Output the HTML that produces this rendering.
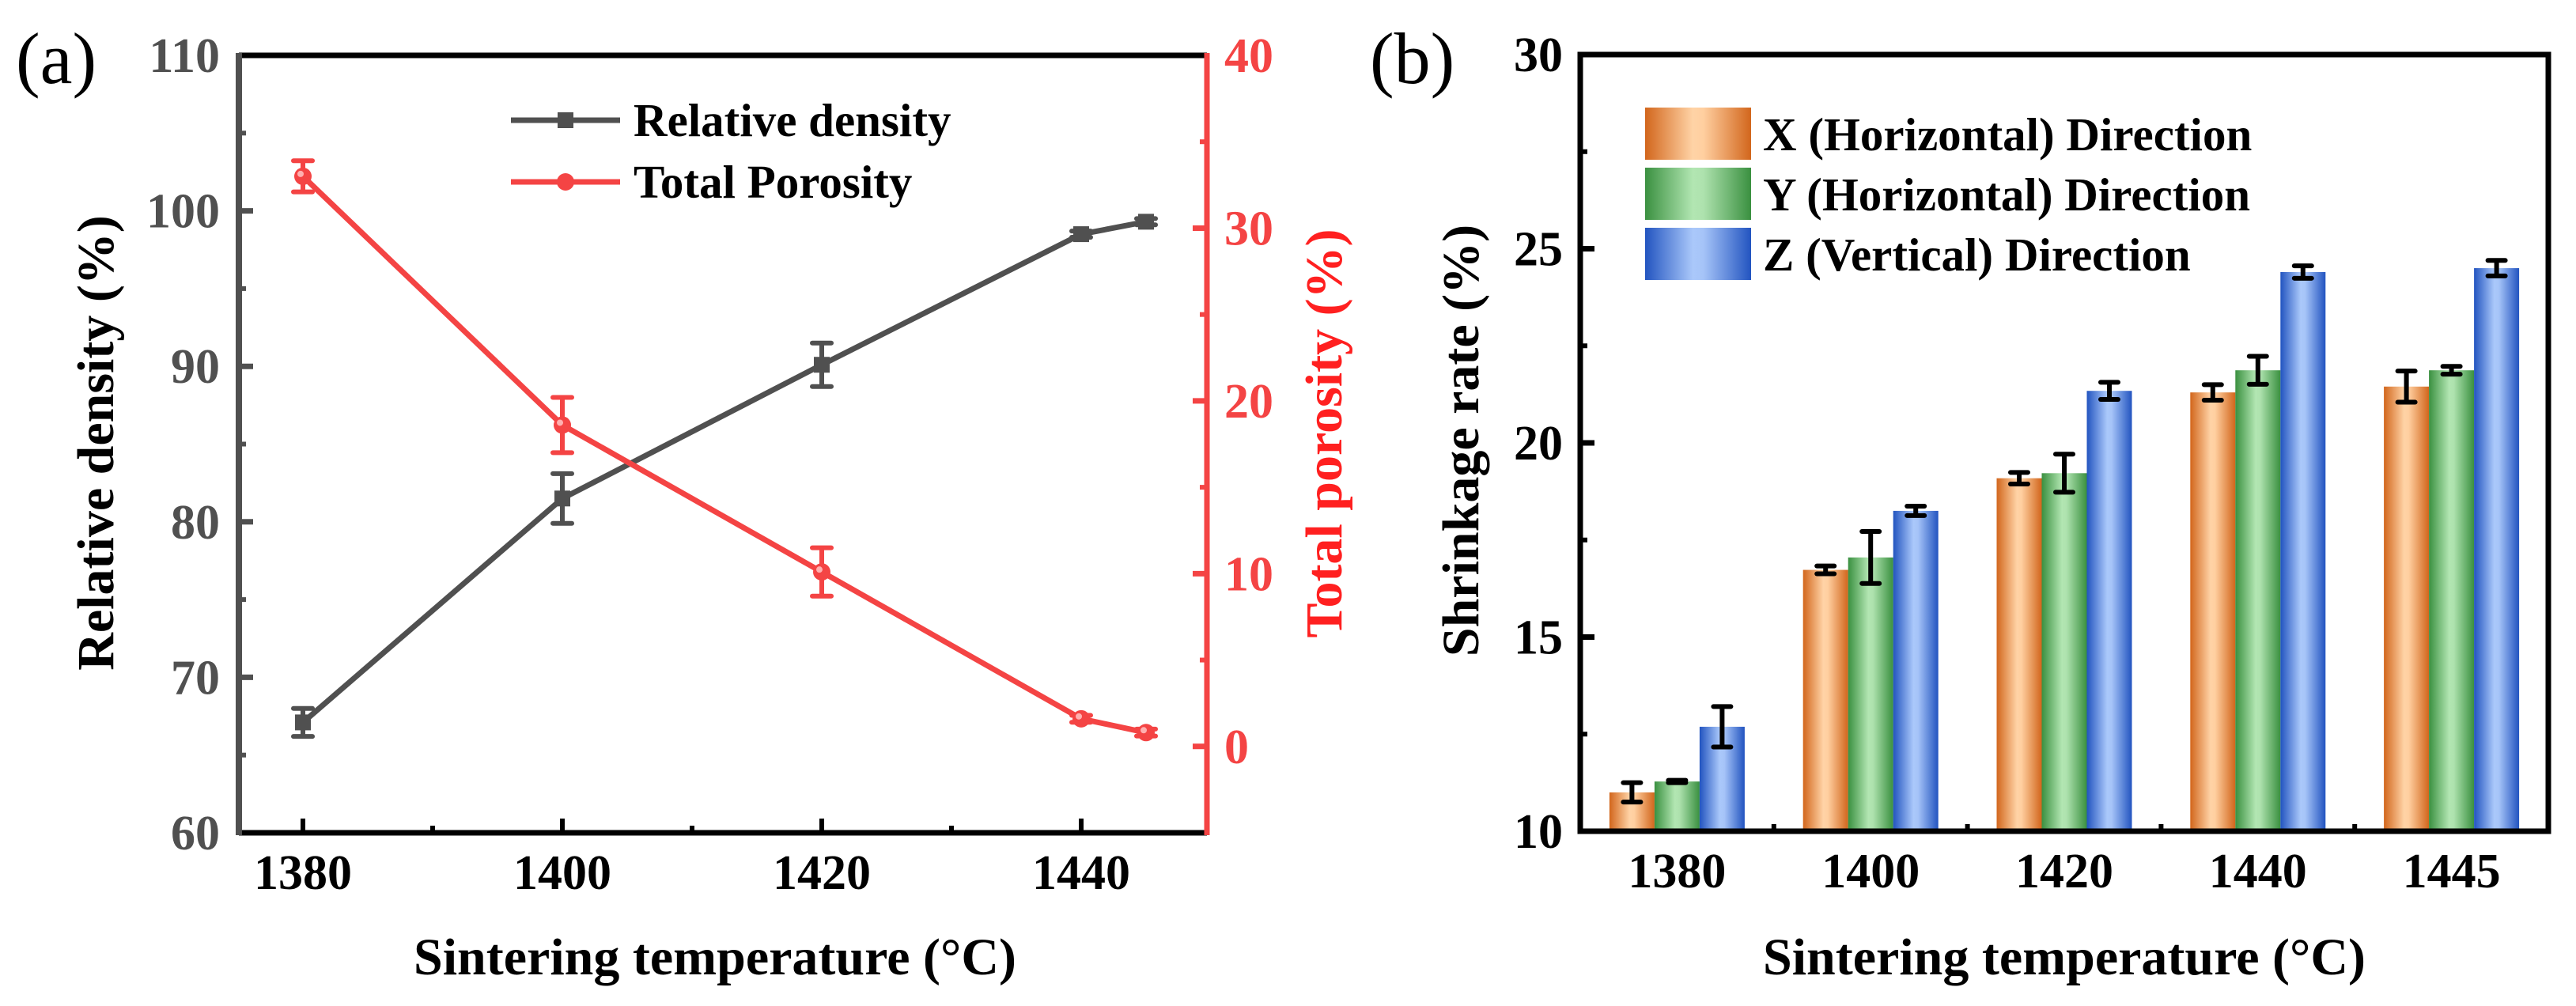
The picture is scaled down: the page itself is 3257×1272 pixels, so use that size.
<!DOCTYPE html>
<html><head><meta charset="utf-8"><style>
html,body{margin:0;padding:0;background:#fff;}
svg{display:block;font-family:"Liberation Serif","Times New Roman",serif;}
text{font-family:"Liberation Serif","Times New Roman",serif;}
</style></head><body>
<svg id="fig" width="3257" height="1272" viewBox="0 0 3257 1272" xmlns="http://www.w3.org/2000/svg">
<defs>
<linearGradient id="gX" x1="0" x2="1" y1="0" y2="0"><stop offset="0" stop-color="#d2661c"/><stop offset="0.45" stop-color="#ffd3a6"/><stop offset="0.55" stop-color="#ffcfa0"/><stop offset="1" stop-color="#d2661c"/></linearGradient>
<linearGradient id="gY" x1="0" x2="1" y1="0" y2="0"><stop offset="0" stop-color="#3a9040"/><stop offset="0.45" stop-color="#b2e6b2"/><stop offset="0.55" stop-color="#aee2ae"/><stop offset="1" stop-color="#3a9040"/></linearGradient>
<linearGradient id="gZ" x1="0" x2="1" y1="0" y2="0"><stop offset="0" stop-color="#2254c0"/><stop offset="0.45" stop-color="#aac8fa"/><stop offset="0.55" stop-color="#a6c4f8"/><stop offset="1" stop-color="#2254c0"/></linearGradient>
</defs>
<g id="pa"></g>
<g id="pb"></g>
</svg>
<script>
// Panel (a) data
const tempsA = [1380, 1400, 1420, 1440, 1445];
const density = [67.1, 81.5, 90.1, 98.5, 99.3];
const densityErr = [0.9, 1.6, 1.4, 0.2, 0.2];
const porosity = [33.0, 18.6, 10.1, 1.6, 0.8];
const porosityErr = [0.9, 1.6, 1.4, 0.2, 0.2];
const leftTicks = [60, 70, 80, 90, 100, 110];
const rightTicks = [0, 10, 20, 30, 40];
const xTicksA = [1380, 1400, 1420, 1440];
// Panel (b) data
const categoriesB = ["1380", "1400", "1420", "1440", "1445"];
const seriesNames = ["X (Horizontal) Direction", "Y (Horizontal) Direction", "Z (Vertical) Direction"];
const shrinkX = [11.0, 16.73, 19.09, 21.30, 21.45];
const shrinkY = [11.28, 17.05, 19.22, 21.87, 21.87];
const shrinkZ = [12.69, 18.25, 21.34, 24.40, 24.50];
const errX = [0.25, 0.1, 0.15, 0.2, 0.4];
const errY = [0.03, 0.67, 0.49, 0.36, 0.1];
const errZ = [0.52, 0.12, 0.22, 0.16, 0.2];
const yTicksB = [10, 15, 20, 25, 30];

const NS = "http://www.w3.org/2000/svg";
const FF = '"Liberation Serif","Times New Roman",serif';
function mk(parent, tag, attrs, text) {
  const e = document.createElementNS(NS, tag);
  for (const k in attrs) e.setAttribute(k, attrs[k]);
  if (tag === "text") e.setAttribute("font-family", FF);
  if (text !== undefined) e.textContent = text;
  parent.appendChild(e);
  return e;
}

// ---------- Panel A ----------
const pa = document.getElementById("pa");
const A = {l: 302, r: 1526, t: 70, b: 1053};
const xA = v => A.l + (v - 1375.06) * 16.4;
const yL = v => A.b - (v - 60) * (A.b - A.t) / 50;
const yR = v => A.b - (v + 5) * (A.b - A.t) / 45;
const gray = "#505050", red = "#f44444";

let e;
e = mk(pa, "line", {x1: A.l, y1: A.t, x2: A.r, y2: A.t, stroke: "#000", "stroke-width": 7});


e = mk(pa, "line", {x1: A.l, y1: A.b, x2: A.r, y2: A.b, stroke: "#000", "stroke-width": 7});


e = mk(pa, "line", {x1: A.l, y1: A.t - 3, x2: A.l, y2: A.b + 3, stroke: gray, "stroke-width": 8});


e = mk(pa, "line", {x1: A.r, y1: A.t - 3, x2: A.r, y2: A.b + 3, stroke: red, "stroke-width": 7});



for (let i = 0; i < leftTicks.length; i++) {
  const v = leftTicks[i], y = yL(v);
  if (v > 60 && v < 110) mk(pa, "line", {x1: A.l, y1: y, x2: A.l + 18, y2: y, stroke: gray, "stroke-width": 7});
  if (i < leftTicks.length - 1) { const ym = yL(v + 5); mk(pa, "line", {x1: A.l, y1: ym, x2: A.l + 9, y2: ym, stroke: gray, "stroke-width": 6}); }
  e = mk(pa, "text", {x: 278, y: y + 21, "text-anchor": "end", "font-size": 62, "font-weight": "bold", fill: gray}, String(v));
  
  
}
for (let i = 0; i < rightTicks.length; i++) {
  const v = rightTicks[i], y = yR(v);
  if (v < 40) mk(pa, "line", {x1: A.r, y1: y, x2: A.r - 18, y2: y, stroke: red, "stroke-width": 7});
  const ym = yR(v + 5); if (v + 5 < 40) mk(pa, "line", {x1: A.r, y1: ym, x2: A.r - 9, y2: ym, stroke: red, "stroke-width": 6});
  e = mk(pa, "text", {x: 1548, y: y + 21, "text-anchor": "start", "font-size": 62, "font-weight": "bold", fill: red}, String(v));
  
  
}
for (let v = 1380; v <= 1440; v += 10) {
  const x = xA(v), major = xTicksA.includes(v);
  mk(pa, "line", {x1: x, y1: A.b, x2: x, y2: A.b - (major ? 18 : 9), stroke: "#000", "stroke-width": 6});
  if (major) {
    e = mk(pa, "text", {x: x, y: 1124, "text-anchor": "middle", "font-size": 62, "font-weight": "bold", fill: "#000"}, String(v));
    
    
  }
}
let pts = tempsA.map((t, i) => xA(t) + "," + yL(density[i])).join(" ");
e = mk(pa, "polyline", {points: pts, fill: "none", stroke: gray, "stroke-width": 7});


pts = tempsA.map((t, i) => xA(t) + "," + yR(porosity[i])).join(" ");
e = mk(pa, "polyline", {points: pts, fill: "none", stroke: red, "stroke-width": 7});


function errBar(g, x, y1, y2, col, w, sw) {
  mk(g, "line", {x1: x, y1: y1, x2: x, y2: y2, stroke: col, "stroke-width": sw});
  mk(g, "line", {x1: x - w / 2, y1: y1, x2: x + w / 2, y2: y1, stroke: col, "stroke-width": sw, "stroke-linecap": "round"});
  mk(g, "line", {x1: x - w / 2, y1: y2, x2: x + w / 2, y2: y2, stroke: col, "stroke-width": sw, "stroke-linecap": "round"});
}
for (let i = 0; i < tempsA.length; i++) {
  const x = xA(tempsA[i]);
  errBar(pa, x, yL(density[i] + densityErr[i]), yL(density[i] - densityErr[i]), gray, 24, 6);
  e = mk(pa, "rect", {x: x - 10, y: yL(density[i]) - 10, width: 20, height: 20, fill: gray});
  
  
  errBar(pa, x, yR(porosity[i] + porosityErr[i]), yR(porosity[i] - porosityErr[i]), red, 24, 6);
  e = mk(pa, "circle", {cx: x, cy: yR(porosity[i]), r: 11, fill: red});
  
  
  mk(pa, "circle", {cx: x - 3, cy: yR(porosity[i]) - 3, r: 4, fill: "#ffb0b0"});
}
// legend a
e = mk(pa, "g", {});


mk(e, "line", {x1: 646, y1: 152, x2: 784, y2: 152, stroke: gray, "stroke-width": 7});
mk(e, "rect", {x: 705, y: 142, width: 20, height: 20, fill: gray});
mk(e, "text", {x: 801, y: 172, "font-size": 59, "font-weight": "bold"}, "Relative density");
mk(e, "line", {x1: 646, y1: 230, x2: 784, y2: 230, stroke: red, "stroke-width": 7});
mk(e, "circle", {cx: 715, cy: 230, r: 11, fill: red});
mk(e, "text", {x: 801, y: 250, "font-size": 59, "font-weight": "bold"}, "Total Porosity");
// titles a
e = mk(pa, "text", {x: 20, y: 105, "font-size": 92, fill: "#000"}, "(a)");


e = mk(pa, "text", {x: 0, y: 0, transform: "translate(143,560) rotate(-90)", "text-anchor": "middle", "font-size": 66, "font-weight": "bold", fill: "#000"}, "Relative density (%)");


e = mk(pa, "text", {x: 0, y: 0, transform: "translate(1696,548) rotate(-90)", "text-anchor": "middle", "font-size": 66, "font-weight": "bold", fill: "#ff2020"}, "Total porosity (%)");


e = mk(pa, "text", {x: 904, y: 1232, "text-anchor": "middle", "font-size": 66, "font-weight": "bold", fill: "#000"}, "Sintering temperature (°C)");



// ---------- Panel B ----------
const pb = document.getElementById("pb");
const B = {l: 1998, r: 3222, t: 69, b: 1051};
const band = (B.r - B.l) / categoriesB.length;
const xB = i => B.l + band * (i + 0.5);
const yB = v => B.b - (v - 10) * (B.b - B.t) / 20;
const barW = 57;
const series = [shrinkX, shrinkY, shrinkZ], errs = [errX, errY, errZ], grads = ["url(#gX)", "url(#gY)", "url(#gZ)"];
const snames = ["bar-x", "bar-y", "bar-z"];
for (let i = 0; i < categoriesB.length; i++) {
  for (let s = 0; s < 3; s++) {
    const x0 = xB(i) + (s - 1.5) * barW, v = series[s][i];
    e = mk(pb, "rect", {x: x0, y: yB(v), width: barW, height: yB(10) - yB(v), fill: grads[s]});
    
    
    errBar(pb, x0 + barW / 2, yB(v + errs[s][i]), yB(v - errs[s][i]), "#000", 22, 6);
  }
  e = mk(pb, "text", {x: xB(i), y: 1122, "text-anchor": "middle", "font-size": 62, "font-weight": "bold"}, categoriesB[i]);
  
  
  if (i > 0) mk(pb, "line", {x1: B.l + band * i, y1: B.b, x2: B.l + band * i, y2: B.b - 9, stroke: "#000", "stroke-width": 6});
}
e = mk(pb, "rect", {x: B.l, y: B.t, width: B.r - B.l, height: B.b - B.t, fill: "none", stroke: "#000", "stroke-width": 7});


for (let i = 0; i < yTicksB.length; i++) {
  const v = yTicksB[i], y = yB(v);
  if (v > 10 && v < 30) mk(pb, "line", {x1: B.l, y1: y, x2: B.l + 18, y2: y, stroke: "#000", "stroke-width": 7});
  if (v < 30) { const ym = yB(v + 2.5); mk(pb, "line", {x1: B.l, y1: ym, x2: B.l + 9, y2: ym, stroke: "#000", "stroke-width": 6}); }
  e = mk(pb, "text", {x: 1976, y: y + 21, "text-anchor": "end", "font-size": 62, "font-weight": "bold"}, String(v));
  
  
}
// legend b
const lg = mk(pb, "g", {});


const lgY = [136, 212, 288];
for (let s = 0; s < 3; s++) {
  mk(lg, "rect", {x: 2080, y: lgY[s], width: 134, height: 66, fill: grads[s]});
  mk(lg, "text", {x: 2229, y: lgY[s] + 54, "font-size": 59, "font-weight": "bold"}, seriesNames[s]);
}
e = mk(pb, "text", {x: 1732, y: 105, "font-size": 92}, "(b)");


e = mk(pb, "text", {x: 0, y: 0, transform: "translate(1869,557) rotate(-90)", "text-anchor": "middle", "font-size": 66, "font-weight": "bold"}, "Shrinkage rate (%)");


e = mk(pb, "text", {x: 2610, y: 1232, "text-anchor": "middle", "font-size": 66, "font-weight": "bold"}, "Sintering temperature (°C)");


</script>
</body></html>
